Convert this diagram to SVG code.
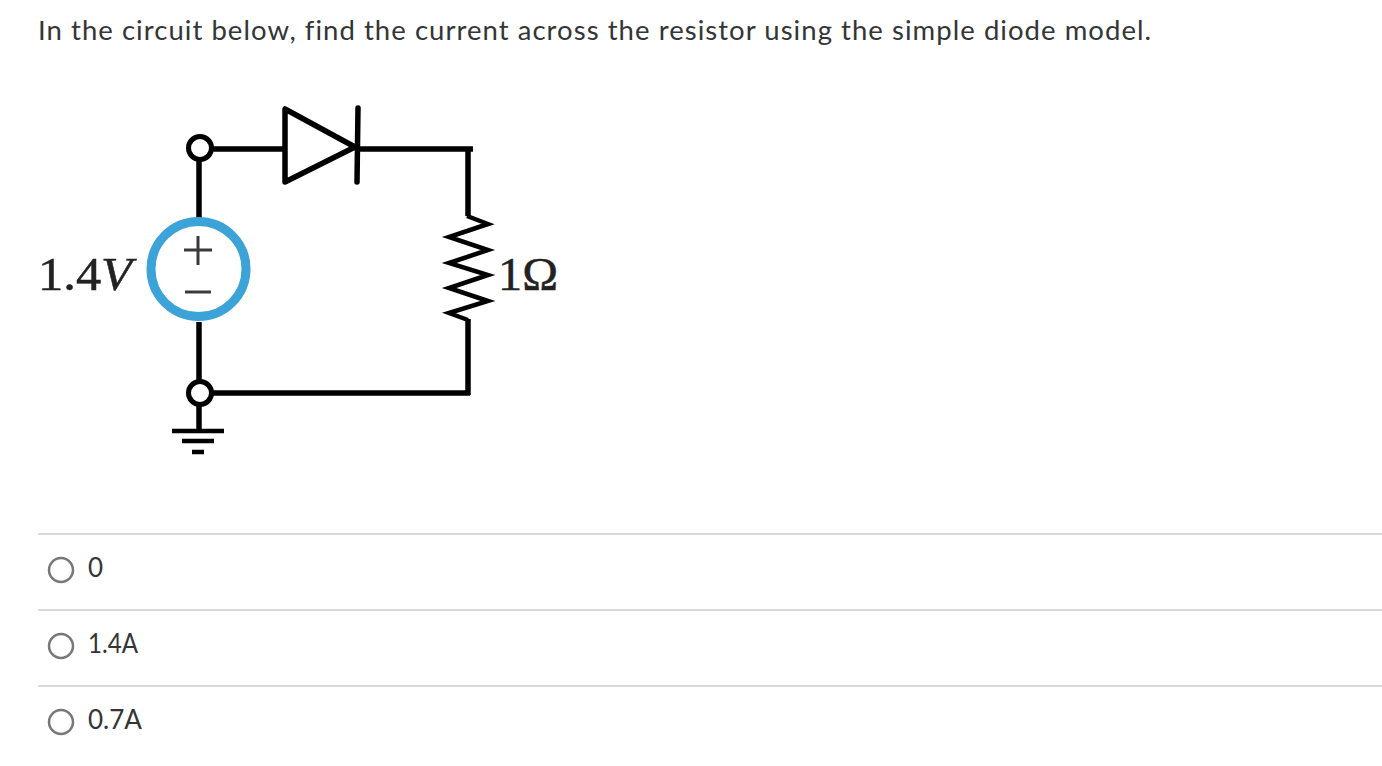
<svg xmlns="http://www.w3.org/2000/svg" width="1382" height="766" viewBox="0 0 1382 766">
<style>
.w{fill:none;stroke:#000;stroke-width:5.500;stroke-linecap:butt;stroke-linejoin:miter}
.t{stroke-linecap:round;stroke-linejoin:round}
.ui{font-family:"Lato","Open Sans","Liberation Sans",sans-serif;fill:#333537;font-variant-ligatures:none}
.m{font-family:"Liberation Serif","DejaVu Serif",serif;fill:#222;stroke:#222;stroke-width:.5}
.sep{stroke:#d9d9d9;stroke-width:2}
.rad{fill:#fff;stroke:#777;stroke-width:2.500}
.term{fill:#fff;stroke:#000;stroke-width:5}
</style>
<rect width="1382" height="766" fill="#fff"/>
<text class="ui" x="38" y="40" font-size="27.500" textLength="1113" lengthAdjust="spacing">In the circuit below, find the current across the resistor using the simple diode model.</text>
<g id="connectors">
<path class="w" d="M199 158V218M199 322V382M211 149H285M358 149H473M468 149V216M468 319V395M212 393H470M199 404V430"/>
</g>
<g id="diode"><path class="w t" d="M285 109V182L355 147ZM358 108L357 182"/></g>
<g id="resistor"><path class="w" style="stroke-width:4.500" d="M467 216L488 224L449 237L488 250L449 263L488 275L449 288L488 301L449 313L468 320"/><text class="m" x="498" y="290" font-size="46" textLength="60" lengthAdjust="spacingAndGlyphs">1Ω</text></g>
<g id="source"><circle cx="198.500" cy="269" r="47.500" fill="#fff" stroke="#3ba3d8" stroke-width="9"/><path d="M184 250H212M198 236V265M185 292H211" stroke="#3a3a3a" stroke-width="3" fill="none"/><text class="m" x="38" y="290" font-size="46" textLength="94" lengthAdjust="spacingAndGlyphs">1.4<tspan font-style="italic">V</tspan></text></g>
<g id="terminal-top"><circle class="term" cx="200" cy="148" r="11.500"/></g>
<g id="terminal-bottom"><circle class="term" cx="200" cy="393" r="11.500"/></g>
<g id="ground"><path d="M172 431H224M182 441H214M192 452H204" stroke="#000" stroke-width="4.500" fill="none"/></g>
<g id="options">
<path class="sep" d="M38 534H1382M38 610H1382M38 686H1382"/>
<circle class="rad" cx="61" cy="570" r="12"/><circle class="rad" cx="61" cy="646" r="12"/><circle class="rad" cx="61" cy="722" r="12"/>
<text class="ui" x="88" y="577" font-size="26">0</text>
<text class="ui" x="88" y="653" font-size="26" textLength="50" lengthAdjust="spacingAndGlyphs">1.4A</text>
<text class="ui" x="88" y="729" font-size="26" textLength="54" lengthAdjust="spacingAndGlyphs">0.7A</text>
</g>
</svg>
